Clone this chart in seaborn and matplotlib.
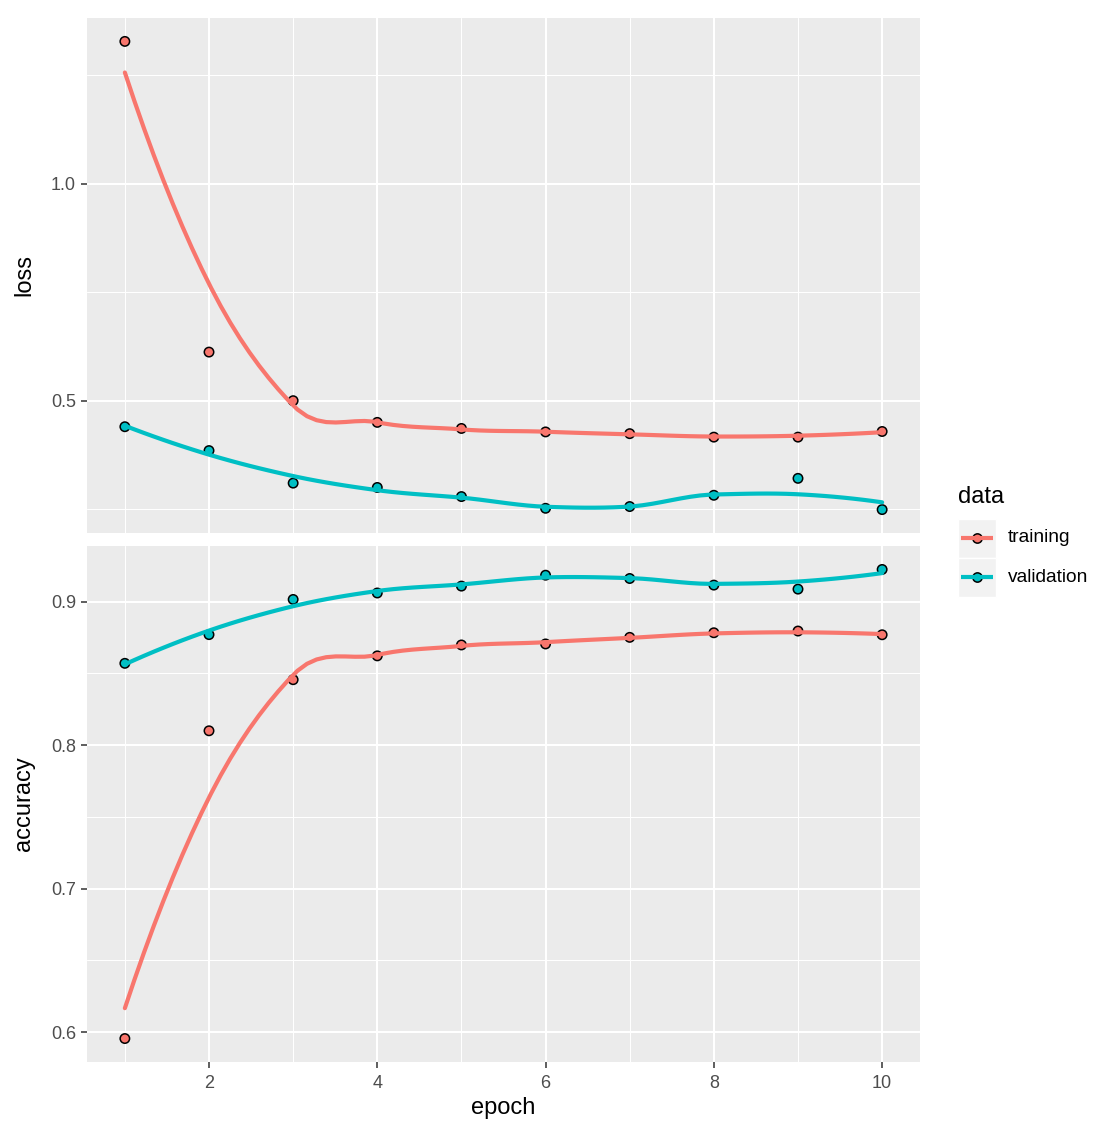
import numpy as np
import pandas as pd
import matplotlib
matplotlib.use("Agg")
import matplotlib.pyplot as plt
from matplotlib.ticker import MultipleLocator, FormatStrFormatter
from matplotlib.lines import Line2D
from matplotlib.patches import Rectangle
import seaborn as sns

# ---------------- data ----------------
epochs = [1, 2, 3, 4, 5, 6, 7, 8, 9, 10]
training_loss = [1.328, 0.612, 0.500, 0.450, 0.436, 0.428, 0.424, 0.416, 0.416, 0.429]
validation_loss = [0.440, 0.385, 0.310, 0.300, 0.279, 0.252, 0.256, 0.282, 0.321, 0.249]
training_accuracy = [0.5956, 0.810, 0.8456, 0.8622, 0.8698, 0.8705, 0.8751, 0.8783, 0.8795, 0.8769]
validation_accuracy = [0.857, 0.877, 0.9015, 0.906, 0.9108, 0.9184, 0.9161, 0.9115, 0.9087, 0.9224]
series_names = ["training", "validation"]
metric_names = ["loss", "accuracy"]
palette = {"training": "#F8766D", "validation": "#00BFC4"}

values = {
    ("loss", "training"): training_loss,
    ("loss", "validation"): validation_loss,
    ("accuracy", "training"): training_accuracy,
    ("accuracy", "validation"): validation_accuracy,
}

rows = []
for (metric, series), vals in values.items():
    for e, v in zip(epochs, vals):
        rows.append({"epoch": e, "value": v, "metric": metric, "data": series})
df = pd.DataFrame(rows)


# ---------------- loess (R default: span .75, degree 2, kd-tree interpolation) ----
def local_fit(x, y, x0, span=0.75):
    n = len(x)
    q = int(np.floor(n * span))
    d = np.abs(x - x0)
    h = np.sort(d)[q - 1]
    u = d / h
    w = np.where(u < 1, (1 - u ** 3) ** 3, 0.0)
    X = np.column_stack([np.ones(n), x - x0, (x - x0) ** 2])
    sw = np.sqrt(w)
    beta, *_ = np.linalg.lstsq(X * sw[:, None], y * sw, rcond=None)
    return beta[0], beta[1]


def loess_curve(x, y, span=0.75, n_out=80, cell=0.2):
    x = np.asarray(x, float)
    y = np.asarray(y, float)
    rng = x.max() - x.min()
    margin = 0.005 * rng
    lo_b, hi_b = x.min() - margin, x.max() + margin
    xs = np.sort(x)
    fc = int(np.floor(len(x) * span * cell))
    verts = {lo_b, hi_b}

    def split(lo, hi, a, b):
        if hi - lo + 1 <= fc:
            return
        m = (lo + hi) // 2
        v = xs[m]
        if v == a or v == b:
            return
        verts.add(v)
        split(lo, m, a, v)
        split(m + 1, hi, v, b)

    split(0, len(xs) - 1, lo_b, hi_b)
    verts = np.array(sorted(verts))
    fits = np.array([local_fit(x, y, v, span) for v in verts])
    xg = np.linspace(x.min(), x.max(), n_out)
    out = []
    for xx in xg:
        i = np.searchsorted(verts, xx, side="right") - 1
        i = min(max(i, 0), len(verts) - 2)
        a, b = verts[i], verts[i + 1]
        hh = b - a
        t = (xx - a) / hh
        h00 = (1 + 2 * t) * (1 - t) ** 2
        h10 = t * (1 - t) ** 2
        h01 = t ** 2 * (3 - 2 * t)
        h11 = t ** 2 * (t - 1)
        out.append(h00 * fits[i, 0] + h10 * hh * fits[i, 1]
                   + h01 * fits[i + 1, 0] + h11 * hh * fits[i + 1, 1])
    return xg, np.array(out)


srows = []
for (metric, series), vals in values.items():
    xg, yg = loess_curve(epochs, vals)
    for a, b in zip(xg, yg):
        srows.append({"epoch": a, "value": b, "metric": metric, "data": series})
sm = pd.DataFrame(srows)

# ---------------- style ----------------
sns.set_theme(style="darkgrid")
plt.rcParams["font.family"] = ["Liberation Sans", "DejaVu Sans"]

W, H = 1120, 1140
fig = plt.figure(figsize=(W / 100, H / 100), dpi=100)
fig.patch.set_facecolor("white")

left, right = 87, 920
panels = {"loss": (18, 533), "accuracy": (546, 1062)}
axes = {}
for metric in metric_names:
    top, bot = panels[metric]
    ax = fig.add_axes([left / W, 1 - bot / H, (right - left) / W, (bot - top) / H])
    axes[metric] = ax

tick_col = "#4D4D4D"
TICK_FS = 13
TITLE_FS = 17
xr = max(epochs) - min(epochs)
for metric in metric_names:
    ax = axes[metric]
    ax.set_facecolor("#EBEBEB")
    for s in ax.spines.values():
        s.set_visible(False)
    d = df[df.metric == metric]
    s_ = sm[sm.metric == metric]
    sns.scatterplot(data=d, x="epoch", y="value", hue="data", palette=palette,
                    edgecolor="black", linewidth=1.1, s=46, ax=ax, legend=False,
                    zorder=3)
    sns.lineplot(data=s_, x="epoch", y="value", hue="data", palette=palette,
                 linewidth=3.0, ax=ax, legend=False, estimator=None, sort=True,
                 zorder=4)
    allv = np.concatenate([d.value.values, s_.value.values])
    yr = allv.max() - allv.min()
    ax.set_ylim(allv.min() - 0.05 * yr, allv.max() + 0.05 * yr)
    ax.set_xlim(min(epochs) - 0.05 * xr, max(epochs) + 0.05 * xr)
    ax.xaxis.set_major_locator(MultipleLocator(2))
    ax.xaxis.set_minor_locator(MultipleLocator(1))
    if metric == "loss":
        ax.yaxis.set_major_locator(MultipleLocator(0.5))
        ax.yaxis.set_minor_locator(MultipleLocator(0.25))
    else:
        ax.yaxis.set_major_locator(MultipleLocator(0.1))
        ax.yaxis.set_minor_locator(MultipleLocator(0.05))
    ax.yaxis.set_major_formatter(FormatStrFormatter("%.1f"))
    ax.xaxis.set_major_formatter(FormatStrFormatter("%d"))
    ax.grid(which="major", color="white", linewidth=1.5)
    ax.grid(which="minor", color="white", linewidth=0.75)
    ax.set_axisbelow(True)
    ax.tick_params(axis="y", which="major", length=4, width=1.1, color="#333333",
                   labelsize=TICK_FS, labelcolor=tick_col, pad=4, left=True)
    ax.tick_params(which="minor", length=0)
    ax.set_xlabel("")
    ax.set_ylabel(metric, fontsize=TITLE_FS, color="black")
    ax.yaxis.set_label_coords(-0.062, 0.5)

axes["loss"].tick_params(axis="x", which="both", bottom=False, labelbottom=False)
axes["accuracy"].tick_params(axis="x", which="major", length=4, width=1.1,
                             color="#333333", labelsize=TICK_FS, labelcolor=tick_col,
                             pad=5, bottom=True)
axes["accuracy"].set_xlabel("epoch", fontsize=TITLE_FS, color="black", labelpad=4)

# ---------------- legend ----------------
fig.text(958 / W, 1 - 497 / H, "data", fontsize=TITLE_FS, color="black",
         ha="left", va="center")
key_y = {"training": 538, "validation": 577}
for name in series_names:
    yk = key_y[name]
    fig.add_artist(Rectangle((958 / W, 1 - (yk + 19.5) / H), 38 / W, 39 / H,
                             transform=fig.transFigure, facecolor="#F2F2F2",
                             edgecolor="white", linewidth=1))
    fig.add_artist(Line2D([977 / W], [1 - yk / H], transform=fig.transFigure,
                          marker="o", markersize=6.7, markerfacecolor=palette[name],
                          markeredgecolor="black", markeredgewidth=1.1, linestyle="none"))
    fig.add_artist(Line2D([961 / W, 993 / W], [1 - yk / H, 1 - yk / H],
                          transform=fig.transFigure, color=palette[name],
                          linewidth=3.0, solid_capstyle="butt"))
    fig.text(1008 / W, 1 - yk / H, name, fontsize=13.8, color="black",
             ha="left", va="center")

fig.savefig("out.png", dpi=100)
